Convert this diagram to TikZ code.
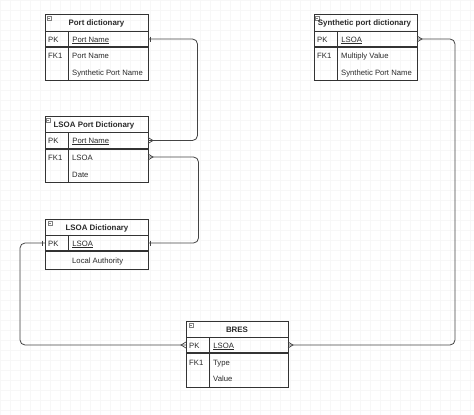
\documentclass[tikz,border=0pt]{standalone}
\usepackage{fontspec}
\setmainfont{Liberation Sans}
\usetikzlibrary{calc}
\definecolor{ln}{HTML}{333333}
\definecolor{cn}{HTML}{444444}
\definecolor{tx}{HTML}{2A2A2A}
\newcommand\ul[1]{\tikz[baseline=(u.base)]{\node[inner sep=0pt,outer sep=0pt] (u) {#1};\draw[tx, line width=0.4pt] ([yshift=-1.1pt]u.base west) -- ([yshift=-1.1pt]u.base east);}}
\begin{document}
\begin{tikzpicture}[x=1pt,y=-1pt,
  box/.style={draw=ln, line width=0.7pt, inner sep=0pt, outer sep=0pt, anchor=north west},
  rowbox/.style={inner sep=0pt, outer sep=0pt, anchor=north west, minimum height=16pt},
  txt/.style={inner sep=0pt, anchor=base west, text=tx, font=\fontsize{7.7}{9}\selectfont},
  hdr/.style={inner sep=0pt, anchor=base, text=tx, font=\fontsize{7.9}{9}\selectfont\bfseries},
  sep/.style={draw=ln, line width=0.7pt},
  pksep/.style={draw=ln, line width=1.2pt},
  conn/.style={draw=cn, line width=0.8pt, rounded corners=5pt},
  ermark/.style={draw=cn, line width=0.7pt},
  icon/.style={draw=gray, line width=0.4pt}
]
\useasboundingbox (0,0) rectangle (474,415);
\fill[white] (0,0) rectangle (474,415);
% faint grid
\foreach \x in {0,10,...,470} \draw[black!3, line width=0.3pt] (\x,0) -- (\x,415);
\foreach \y in {0,10,...,410} \draw[black!3, line width=0.3pt] (0,\y) -- (474,\y);

% ---------- Port dictionary ----------
\node[box, minimum width=103pt, minimum height=66pt] (pd) at (45,14) {};
\draw[sep] (45,31) -- (148,31);
\draw[pksep] (45,47) -- (148,47);
\draw[sep] (68,31) -- (68,80);
\draw[icon] (47,16) rectangle (51,20); \draw[icon] (47.8,18) -- (50.2,18);
\node[hdr] (pdh) at (96.5,25.5) {Port dictionary};
\node[rowbox, minimum width=103pt] (pdpk) at (45,31) {};
\node[txt] (pdpkk) at (48,42) {PK};
\node[txt] (pdpkn) at (72,42) {\ul{Port Name}};
\node[txt] (pdfk) at (48,58.5) {FK1};
\node[txt] (pdfkn) at (72,58.5) {Port Name};
\node[txt] (pdsn) at (72,75) {Synthetic Port Name};

% ---------- LSOA Port Dictionary ----------
\node[box, minimum width=103pt, minimum height=66pt] (lpd) at (45,116) {};
\draw[sep] (45,132) -- (148,132);
\draw[pksep] (45,149) -- (148,149);
\draw[sep] (68,132) -- (68,182);
\draw[icon] (46,118) rectangle (50,122); \draw[icon] (46.8,120) -- (49.2,120);
\node[hdr] (lpdh) at (94,127) {LSOA Port Dictionary};
\node[rowbox, minimum width=103pt] (lpdpk) at (45,132.5) {};
\node[rowbox, minimum width=103pt] (lpdfk) at (45,149) {};
\node[txt] (lpdpkk) at (48,143.5) {PK};
\node[txt] (lpdpkn) at (72,143.5) {\ul{Port Name}};
\node[txt] (lpdfkk) at (48,160) {FK1};
\node[txt] (lpdfkn) at (72,160) {LSOA};
\node[txt] (lpddt) at (72,177) {Date};

% ---------- LSOA Dictionary ----------
\node[box, minimum width=103pt, minimum height=50pt] (ld) at (45,219) {};
\draw[sep] (45,235) -- (148,235);
\draw[pksep] (45,251) -- (148,251);
\draw[sep] (68,235) -- (68,251);
\draw[icon] (48,221) rectangle (52,225); \draw[icon] (48.8,223) -- (51.2,223);
\node[hdr] (ldh) at (97,230) {LSOA Dictionary};
\node[rowbox, minimum width=103pt] (ldpk) at (45,235) {};
\node[txt] (ldpkk) at (48,246) {PK};
\node[txt] (ldpkn) at (72,246) {\ul{LSOA}};
\node[txt] (ldla) at (72,263) {Local Authority};

% ---------- Synthetic port dictionary ----------
\node[box, minimum width=103pt, minimum height=66pt] (spd) at (314,14) {};
\draw[sep] (314,31) -- (417,31);
\draw[pksep] (314,47) -- (417,47);
\draw[sep] (337,31) -- (337,80);
\draw[icon] (315,16) rectangle (319,20); \draw[icon] (315.8,18) -- (318.2,18);
\node[hdr] (spdh) at (364.5,25.5) {Synthetic port dictionary};
\node[rowbox, minimum width=103pt] (spdpk) at (314,31) {};
\node[txt] (spdpkk) at (317,42) {PK};
\node[txt] (spdpkn) at (341,42) {\ul{LSOA}};
\node[txt] (spdfk) at (317,58.5) {FK1};
\node[txt] (spdfkn) at (341,58.5) {Multiply Value};
\node[txt] (spdsn) at (341,75) {Synthetic Port Name};

% ---------- BRES ----------
\node[box, minimum width=102pt, minimum height=66pt] (bres) at (186,321) {};
\draw[sep] (186,337) -- (288,337);
\draw[pksep] (186,353) -- (288,353);
\draw[sep] (209,337) -- (209,387);
\draw[icon] (189,323) rectangle (193,327); \draw[icon] (189.8,325) -- (192.2,325);
\node[hdr] (bresh) at (237,332) {BRES};
\node[rowbox, minimum width=102pt] (brespk) at (186,337) {};
\node[txt] (brespkk) at (189,348) {PK};
\node[txt] (brespkn) at (213,348) {\ul{LSOA}};
\node[txt] (bresfk) at (189,365) {FK1};
\node[txt] (bresty) at (213,365) {Type};
\node[txt] (bresva) at (213,381.5) {Value};

% ---------- connectors ----------
\draw[conn] (pdpk.east) -- ++(49.5,0) |- (lpdpk.east);
\draw[conn] (lpdfk.east) -- ++(50.5,0) |- (ldpk.east);
\draw[conn] (ldpk.west) -- ++(-25,0) |- (brespk.west);
\draw[conn] (spdpk.east) -- ++(38,0) |- (brespk.east);

% one marks
\draw[ermark] ($(pdpk.east)+(2.5,-2.5)$) -- ($(pdpk.east)+(2.5,2.5)$);
\draw[ermark] ($(ldpk.east)+(2.5,-2.5)$) -- ($(ldpk.east)+(2.5,2.5)$);
\draw[ermark] ($(ldpk.west)+(-2.5,-2.5)$) -- ($(ldpk.west)+(-2.5,2.5)$);
% crow's feet
\draw[ermark] ($(lpdpk.east)+(0,-3)$) -- ($(lpdpk.east)+(5,0)$) -- ($(lpdpk.east)+(0,3)$);
\draw[ermark] ($(lpdfk.east)+(0,-3)$) -- ($(lpdfk.east)+(5,0)$) -- ($(lpdfk.east)+(0,3)$);
\draw[ermark] ($(spdpk.east)+(0,-3)$) -- ($(spdpk.east)+(5,0)$) -- ($(spdpk.east)+(0,3)$);
\draw[ermark] ($(brespk.east)+(0,-3)$) -- ($(brespk.east)+(5,0)$) -- ($(brespk.east)+(0,3)$);
\draw[ermark] ($(brespk.west)+(0,-3)$) -- ($(brespk.west)+(-5,0)$) -- ($(brespk.west)+(0,3)$);
\end{tikzpicture}
\end{document}
